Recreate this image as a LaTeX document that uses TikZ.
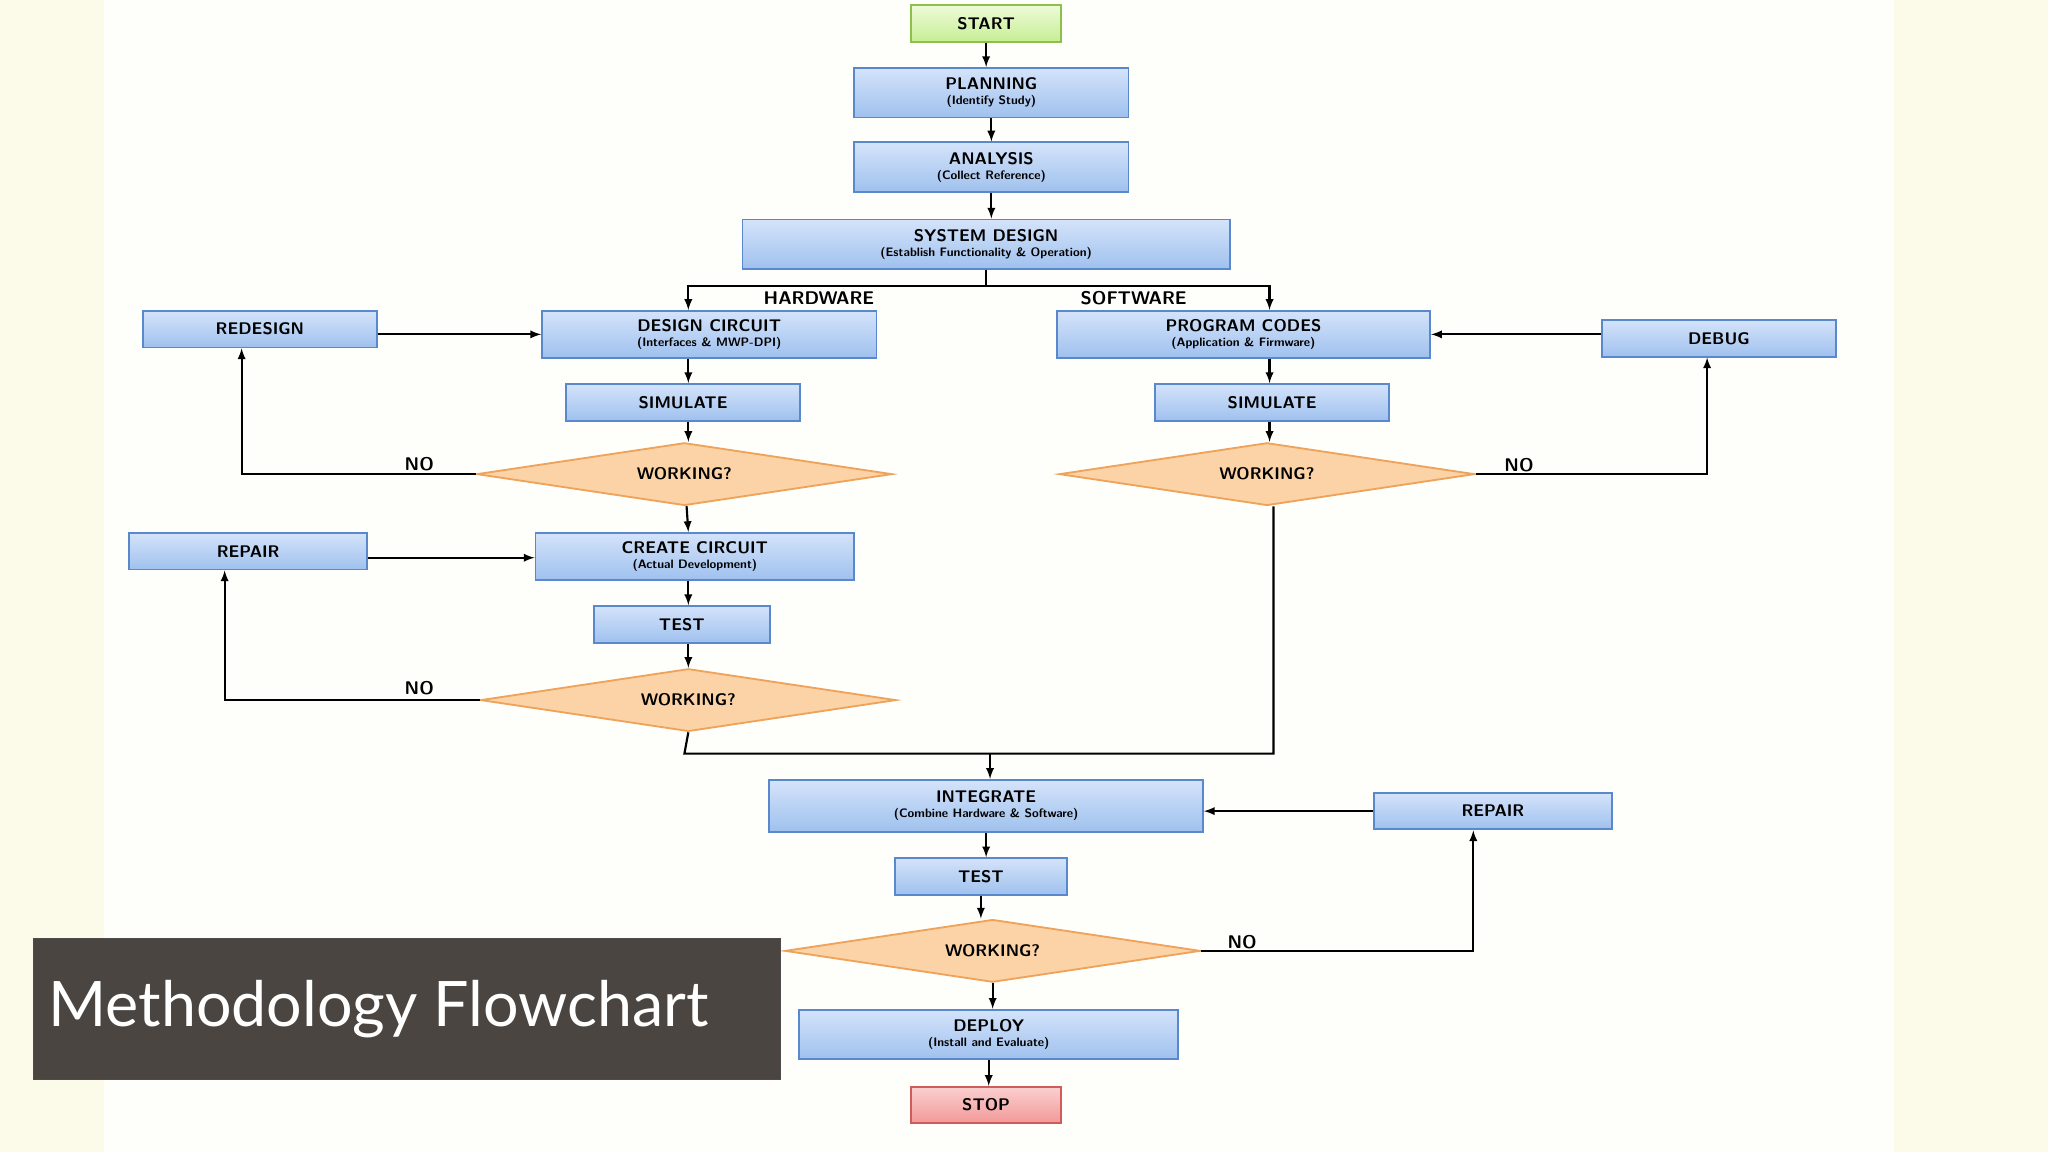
\documentclass[tikz,border=0pt]{standalone}
\usepackage{fontspec}
\newfontfamily\titlefont{Lato}
\usetikzlibrary{arrows,shapes.geometric}
\definecolor{cream}{HTML}{FCFAE8}
\definecolor{paper}{HTML}{FEFEFA}
\definecolor{boxtop}{HTML}{D4E3FA}
\definecolor{boxbot}{HTML}{9FC1EE}
\definecolor{boxline}{HTML}{5A88CC}
\definecolor{gotop}{HTML}{EEFBD8}
\definecolor{gobot}{HTML}{C6EE94}
\definecolor{goline}{HTML}{8CBF4C}
\definecolor{stoptop}{HTML}{FBD0D0}
\definecolor{stopbot}{HTML}{F29898}
\definecolor{stopline}{HTML}{CF5B5B}
\definecolor{dia}{HTML}{FBD3A6}
\definecolor{dialine}{HTML}{EFA35A}
\definecolor{titlebg}{HTML}{4A4540}
\tikzset{
  box/.style 2 args={draw=boxline,line width=1.2pt,top color=boxtop,bottom color=boxbot,
    minimum width=#1*0.03cm,minimum height=#2*0.03cm,inner sep=0pt,align=center,
    font=\sffamily\bfseries\fontsize{11}{11}\selectfont},
  term/.style={box={115}{28},top color=#1top,bottom color=#1bot,draw=#1line},
  dec/.style={diamond,aspect=6.5,draw=dialine,line width=1.2pt,fill=dia,minimum width=318*0.03cm,
    minimum height=48*0.03cm,inner sep=0pt,font=\sffamily\bfseries\fontsize{11}{11}\selectfont},
  lbl/.style={font=\sffamily\bfseries\fontsize{12}{12}\selectfont},
  flow/.style={line width=1.4pt,-latex},
  line/.style={line width=1.4pt}
}
\newcommand{\twoline}[2]{#1\\[-1pt]{\fontsize{8}{8}\selectfont #2}}
\begin{document}
\begin{tikzpicture}[x=0.03cm,y=-0.03cm]
  \fill[cream] (0,0) rectangle (1568,882);
  \fill[paper] (80,0) rectangle (1450,882);
  % main column
  \node[term=go] (start) at (755,18) {START};
  \node[box={210}{38}] (plan) at (759,71) {\twoline{PLANNING}{(Identify Study)}};
  \node[box={210}{38}] (anal) at (759,128) {\twoline{ANALYSIS}{(Collect Reference)}};
  \node[box={373}{38}] (sysd) at (755,187) {\twoline{SYSTEM DESIGN}{(Establish Functionality \& Operation)}};
  % hardware branch
  \node[box={256}{36}] (dcirc) at (543,256) {\twoline{DESIGN CIRCUIT}{(Interfaces \& MWP-DPI)}};
  \node[box={179}{28}] (redes) at (199,252) {REDESIGN};
  \node[box={179}{28}] (simh) at (523,308) {SIMULATE};
  \node[dec] (workh) at (524,363) {WORKING?};
  \node[box={244}{36}] (ccirc) at (532,426) {\twoline{CREATE CIRCUIT}{(Actual Development)}};
  \node[box={182}{28}] (reph) at (190,422) {REPAIR};
  \node[box={135}{28}] (testh) at (522,478) {TEST};
  \node[dec] (workt) at (527,536) {WORKING?};
  % software branch
  \node[box={286}{36}] (prog) at (952,256) {\twoline{PROGRAM CODES}{(Application \& Firmware)}};
  \node[box={179}{28}] (debug) at (1316,259) {DEBUG};
  \node[box={179}{28}] (sims) at (974,308) {SIMULATE};
  \node[dec] (works) at (970,363) {WORKING?};
  % integration
  \node[box={332}{40}] (integ) at (755,617) {\twoline{INTEGRATE}{(Combine Hardware \& Software)}};
  \node[box={182}{28}] (repi) at (1143,621) {REPAIR};
  \node[box={132}{28}] (testi) at (751,671) {TEST};
  \node[dec] (worki) at (760,728) {WORKING?};
  \node[box={290}{38}] (deploy) at (757,792) {\twoline{DEPLOY}{(Install and Evaluate)}};
  \node[term=stop] (stop) at (755,846) {STOP};
  % connectors
  \draw[flow] (start) -- (start|-plan.north);
  \draw[flow] (plan) -- (plan|-anal.north);
  \draw[flow] (anal) -- (anal|-sysd.north);
  \coordinate (split) at (755,219);
  \coordinate (hw) at (527,219);
  \coordinate (sw) at (972,219);
  \draw[line] (sysd.south) -- (split);
  \draw[flow] (split) -- (hw) -- (hw|-dcirc.north);
  \draw[flow] (split) -- (sw) -- (sw|-prog.north);
  \node[lbl] (hwl) at (627,228) {HARDWARE};
  \node[lbl] (swl) at (868,228) {SOFTWARE};
  \draw[flow] (hw|-dcirc.south) -- (hw|-simh.north);
  \draw[flow] (hw|-simh.south) -- (hw|-workh.north);
  \draw[flow] (workh) -- (hw|-ccirc.north);
  \draw[flow] (hw|-ccirc.south) -- (hw|-testh.north);
  \draw[flow] (hw|-testh.south) -- (hw|-workt.north);
  \draw[flow] (workh.west) -| ([xshift=-14*0.03cm]redes.south);
  \node[lbl] (noh) at (321,355) {NO};
  \draw[flow] ([yshift=-4*0.03cm]redes.east) -- ([yshift=-4*0.03cm]redes.east -| dcirc.west);
  \draw[flow] (workt.west) -| ([xshift=-18*0.03cm]reph.south);
  \node[lbl] (not) at (321,527) {NO};
  \draw[flow] ([yshift=-5*0.03cm]reph.east) -- ([yshift=-5*0.03cm]reph.east -| ccirc.west);
  \draw[flow] (sw|-prog.south) -- (sw|-sims.north);
  \draw[flow] (sw|-sims.south) -- (sw|-works.north);
  \draw[flow] (works.east) -| ([xshift=-9*0.03cm]debug.south);
  \node[lbl] (nos) at (1163,356) {NO};
  \draw[flow] ([yshift=3*0.03cm]debug.west) -- ([yshift=3*0.03cm]debug.west -| prog.east);
  \coordinate (jl) at (524,577);
  \coordinate (jr) at (975,577);
  \coordinate (jm) at (758,577);
  \draw[line] (workt.south) -- (jl) -- (jr) -- (jr|-works.south);
  \draw[flow] (jm) -- (jm|-integ.north);
  \draw[flow] (integ) -- (integ|-testi.north);
  \draw[flow] (testi) -- (testi|-worki.north);
  \draw[flow] (worki) -- (worki|-deploy.north);
  \draw[flow] (deploy) -- (deploy|-stop.north);
  \draw[flow] (worki.east) -| ([xshift=-15*0.03cm]repi.south);
  \node[lbl] (noi) at (951,721) {NO};
  \draw[flow] (repi.west) -- (repi.west -| integ.east);
  % title
  \node[draw=black!70,line width=1pt,fill=titlebg,minimum width=572*0.03cm,minimum height=108*0.03cm,
    text=white,font=\titlefont\fontsize{41}{41}\selectfont,anchor=north west,inner sep=0pt]
    (title) at (25,718) {\hspace*{-1.3cm}Methodology Flowchart};
\end{tikzpicture}
\end{document}
